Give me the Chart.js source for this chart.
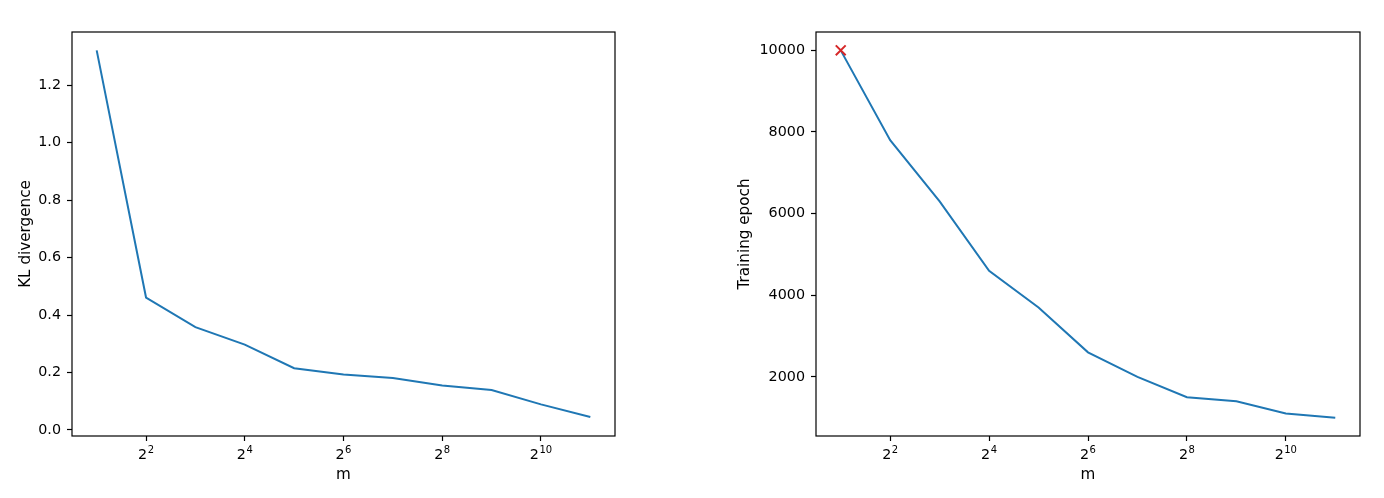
<!DOCTYPE html>
<html>
<head>
<meta charset="utf-8">
<script src="https://cdn.jsdelivr.net/npm/chart.js@4"></script>
<style>
  html, body { margin: 0; padding: 0; background: #fff; }
  #wrap { position: relative; width: 1384px; height: 498px; }
  .c { position: absolute; top: 0; width: 692px; height: 498px; }
</style>
</head>
<body>
<div id="wrap">
  <div class="c" style="left:0"><canvas id="left"></canvas></div>
  <div class="c" style="left:692px"><canvas id="right"></canvas></div>
</div>
<script>
// ---- data ----
const mValues = [2, 4, 8, 16, 32, 64, 128, 256, 512, 1024, 2048];
const klDivergence = [1.321, 0.461, 0.358, 0.297, 0.215, 0.193, 0.181, 0.155, 0.139, 0.089, 0.045];
const trainingEpoch = [10000, 7800, 6300, 4600, 3700, 2600, 2000, 1500, 1400, 1100, 1000];
const markerPoint = [{ x: 2, y: 10000 }];
const xTickValues = [4, 16, 64, 256, 1024];
const xTickBase = ['2', '2', '2', '2', '2'];
const xTickExp = ['2', '4', '6', '8', '10'];
const klTicks = [0.0, 0.2, 0.4, 0.6, 0.8, 1.0, 1.2];
const epochTicks = [2000, 4000, 6000, 8000, 10000];

const FONT = 'DejaVu Sans';
const BLUE = '#1f77b4';
const RED = '#d62728';
const TICK_SIZE = 14.3;
const EXP_SIZE = 10;
const TITLE_SIZE = 15.2;

const frame = {
  id: 'frame',
  afterDatasetsDraw(chart) {
    const a = chart.chartArea, ctx = chart.ctx;
    ctx.save();
    ctx.strokeStyle = '#000';
    ctx.lineWidth = 1.2;
    ctx.strokeRect(a.left, a.top, a.right - a.left, a.bottom - a.top);
    ctx.restore();
  }
};

// power-of-two tick labels drawn like mathtext (base + raised exponent)
const powLabels = {
  id: 'powLabels',
  afterDraw(chart) {
    const ctx = chart.ctx, xs = chart.scales.x;
    const baseY = chart.chartArea.bottom + 23;
    ctx.save();
    ctx.fillStyle = '#000';
    ctx.textBaseline = 'alphabetic';
    ctx.textAlign = 'left';
    xTickValues.forEach((v, i) => {
      const px = xs.getPixelForValue(v);
      ctx.font = TICK_SIZE + 'px "' + FONT + '"';
      const wb = ctx.measureText(xTickBase[i]).width;
      ctx.font = EXP_SIZE + 'px "' + FONT + '"';
      const we = ctx.measureText(xTickExp[i]).width;
      const left = px - (wb + we + 0.5) / 2;
      ctx.font = TICK_SIZE + 'px "' + FONT + '"';
      ctx.fillText(xTickBase[i], left, baseY);
      ctx.font = EXP_SIZE + 'px "' + FONT + '"';
      ctx.fillText(xTickExp[i], left + wb + 0.5, baseY - 6);
    });
    ctx.restore();
  }
};

function makeChart(id, datasets, yLabel, yTicks, yMin, yMax, yFmt, pad, yWidth) {
  return new Chart(document.getElementById(id), {
    type: 'line',
    data: { datasets },
    plugins: [frame, powLabels],
    options: {
      responsive: true,
      maintainAspectRatio: false,
      animation: false,
      devicePixelRatio: 1,
      layout: { padding: pad },
      plugins: { legend: { display: false }, tooltip: { enabled: false } },
      scales: {
        x: {
          type: 'logarithmic',
          min: Math.pow(2, 0.5),
          max: Math.pow(2, 11.5),
          afterBuildTicks(s) { s.ticks = xTickValues.map(v => ({ value: v })); },
          afterFit(s) { s.height = 52; },
          ticks: {
            autoSkip: false, maxRotation: 0,
            color: '#000', padding: 3,
            font: { family: FONT, size: TICK_SIZE },
            callback() { return ''; }
          },
          grid: { display: true, drawOnChartArea: false, drawTicks: true, tickLength: 5, tickColor: '#000', tickWidth: 1.2 },
          border: { display: false },
          title: { display: true, text: 'm', color: '#000', font: { family: FONT, size: TITLE_SIZE }, padding: { top: 4, bottom: 4 } }
        },
        y: {
          type: 'linear',
          min: yMin, max: yMax,
          afterBuildTicks(s) { s.ticks = yTicks.map(v => ({ value: v })); },
          afterFit(s) { s.width = yWidth; },
          ticks: {
            color: '#000', padding: 6,
            font: { family: FONT, size: TICK_SIZE },
            callback: yFmt
          },
          grid: { display: true, drawOnChartArea: false, drawTicks: true, tickLength: 5, tickColor: '#000', tickWidth: 1.2 },
          border: { display: false },
          title: { display: true, text: yLabel, color: '#000', font: { family: FONT, size: TITLE_SIZE }, padding: { top: 4, bottom: 4 } }
        }
      }
    }
  });
}

makeChart('left', [
  {
    data: mValues.map((m, i) => ({ x: m, y: klDivergence[i] })),
    borderColor: BLUE, borderWidth: 2, pointRadius: 0, tension: 0, fill: false
  }
], 'KL divergence', klTicks, -0.021, 1.385, v => v.toFixed(1),
  { top: 32, bottom: 10, left: 13, right: 77 }, 59);

makeChart('right', [
  {
    data: markerPoint,
    showLine: false, pointStyle: 'crossRot', pointRadius: 7,
    pointBorderColor: RED, pointBorderWidth: 2, borderColor: RED, order: 0
  },
  {
    data: mValues.map((m, i) => ({ x: m, y: trainingEpoch[i] })),
    borderColor: BLUE, borderWidth: 2, pointRadius: 0, tension: 0, fill: false, order: 1
  }
], 'Training epoch', epochTicks, 550, 10450, v => String(v),
  { top: 32, bottom: 10, left: 40, right: 24 }, 84);
</script>
</body>
</html>
